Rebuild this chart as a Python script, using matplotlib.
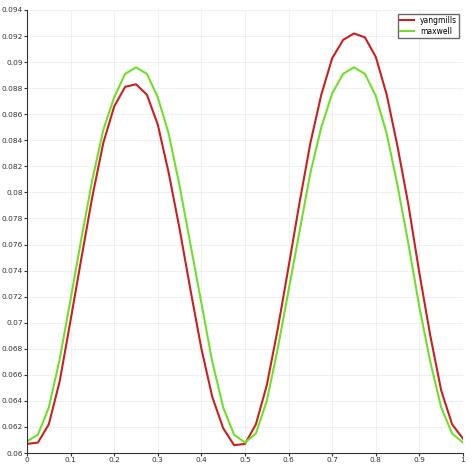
import numpy as np
import matplotlib
matplotlib.use("Agg")
import matplotlib.pyplot as plt

x = np.linspace(0, 1, 41)
yangmills = [0.0607,0.0608,0.0622,0.0655,0.0702,0.075,0.0797,0.0838,0.0866,0.0881,0.0883,0.0875,0.0852,0.0815,0.0772,0.0725,0.068,0.0643,0.0619,0.0606,0.0607,
             0.0622,0.0652,0.0695,0.0743,0.0792,0.0838,0.0875,0.0903,0.0917,0.0922,0.0919,0.0904,0.0875,0.0835,0.079,0.0738,0.069,0.0648,0.0622,0.0611]
maxwell = [0.0609,0.0614,0.0635,0.0672,0.0718,0.0765,0.081,0.0848,0.0873,0.0891,0.0896,0.0891,0.0873,0.0845,0.0805,0.076,0.0715,0.067,0.0635,0.0614,0.0608,
           0.0615,0.064,0.068,0.0725,0.077,0.0815,0.085,0.0876,0.0891,0.0896,0.0891,0.0874,0.0845,0.0805,0.076,0.0712,0.067,0.0635,0.0615,0.0608]

fig = plt.figure(figsize=(4.74, 4.7), dpi=100)
ax = fig.add_axes([27/474, 17/470, 436/474, 443/470])
ax.plot(x, yangmills, color="#cc1f1f", lw=1.5, label="yangmills")
ax.plot(x, maxwell, color="#6ee02a", lw=1.5, label="maxwell")
ax.set_xlim(0, 1)
ax.set_ylim(0.06, 0.094)
ax.set_xticks(np.arange(0, 1.01, 0.1))
ax.set_xticklabels(["0","0.1","0.2","0.3","0.4","0.5","0.6","0.7","0.8","0.9","1"])
ax.set_yticks(np.arange(0.06, 0.0941, 0.002))
ax.set_yticklabels([f"{v:g}" for v in np.round(np.arange(0.06, 0.0941, 0.002), 3)])
ax.tick_params(labelsize=5.3, length=2.5, pad=0.5, colors="#333333")
ax.grid(True, color="#eeeeee", lw=0.6)
for s in ["top", "right"]:
    ax.spines[s].set_visible(False)
for s in ["left", "bottom"]:
    ax.spines[s].set_color("#333333")
leg = ax.legend(loc="upper right", fontsize=5.5, frameon=True, fancybox=False,
                edgecolor="#444444", handlelength=1.8, borderpad=0.3, labelspacing=0.2)
fig.savefig("out.png", dpi=100)
